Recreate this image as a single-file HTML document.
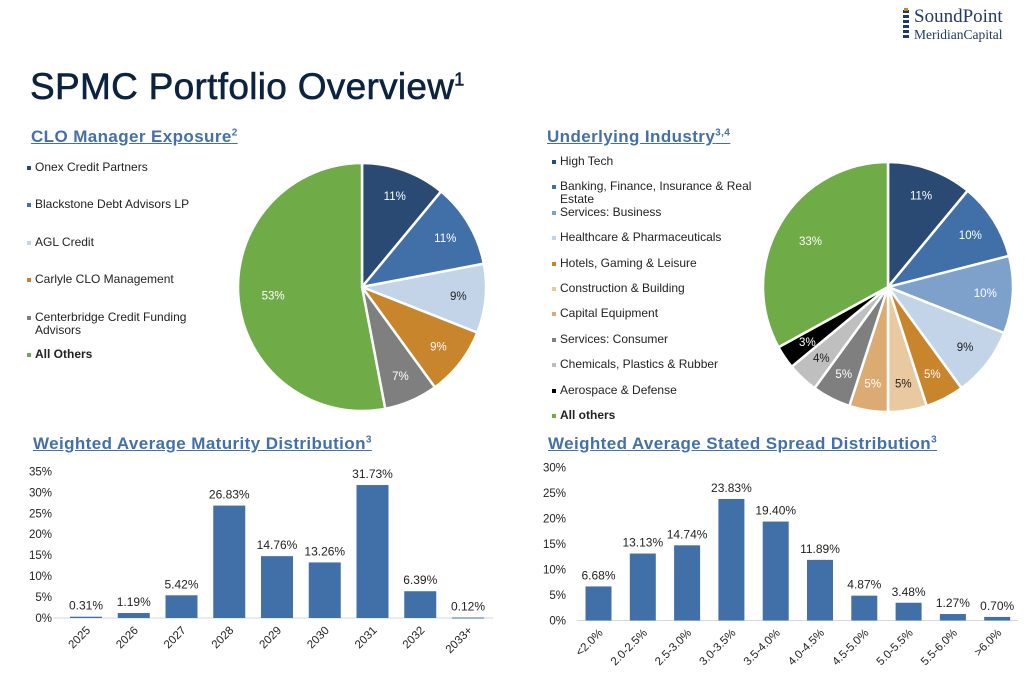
<!DOCTYPE html>
<html><head><meta charset="utf-8">
<style>
body{margin:0;width:1029px;height:676px;background:#fff;font-family:"Liberation Sans",sans-serif;position:relative;overflow:hidden}
.abs{position:absolute}
h1{position:absolute;left:30px;top:66px;margin:0;font-size:37px;font-weight:normal;color:#0c2340;letter-spacing:0.3px;-webkit-text-stroke:0.6px #0c2340}
h1 sup{font-size:18px}
.sec{position:absolute;font-size:17px;font-weight:bold;color:#4470aa;text-decoration:underline;margin:0;white-space:nowrap;letter-spacing:0.4px}
.sec sup{font-size:10px}
.leg{position:absolute;font-size:12px;color:#222;line-height:13px}
.leg i{display:inline-block;width:4px;height:4px;margin-right:4px;vertical-align:middle}
svg text{font-family:"Liberation Sans",sans-serif}
</style></head><body>
<div class="abs" style="left:903px;top:8px;width:120px;height:36px">
 <div class="abs" style="left:0;top:2px;width:6px;height:30px;background:repeating-linear-gradient(#1f3a64 0 3px,#fff 3px 5px)"></div>
 <div class="abs" style="left:1px;top:0;width:4px;height:3px;background:#c8852b"></div>
 <div class="abs" style="left:11px;top:-2px;font-family:'Liberation Serif',serif;font-size:19px;color:#1f3a64">SoundPoint</div>
 <div class="abs" style="left:11px;top:19px;font-family:'Liberation Serif',serif;font-size:13.5px;color:#1f3a64">MeridianCapital</div>
</div>
<h1>SPMC Portfolio Overview<sup>1</sup></h1>
<div class="sec" style="left:31px;top:127px">CLO Manager Exposure<sup>2</sup></div>
<div class="sec" style="left:547px;top:127px">Underlying Industry<sup>3,4</sup></div>
<div class="sec" style="left:33px;top:434px">Weighted Average Maturity Distribution<sup>3</sup></div>
<div class="sec" style="left:548px;top:434px">Weighted Average Stated Spread Distribution<sup>3</sup></div>
<div id="leg1"></div><div id="leg2"></div>
<svg id="svg" width="1029" height="676" style="position:absolute;left:0;top:0"></svg>
<script>
const pie1Labels=["Onex Credit Partners","Blackstone Debt Advisors LP","AGL Credit","Carlyle CLO Management","Centerbridge Credit Funding<br>Advisors","All Others"];
const pie1Values=[11,11,9,9,7,53];
const pie1Colors=["#2b4a73","#4170a8","#c3d4e8","#c8852b","#7f7f7f","#6fab46"];
const pie1TextDark=[0,0,1,0,0,0];
const leg1Y=[161,198,236,273,311,348];
const pie2Labels=["High Tech","Banking, Finance, Insurance &amp; Real<br>Estate","Services: Business","Healthcare &amp; Pharmaceuticals","Hotels, Gaming &amp; Leisure","Construction &amp; Building","Capital Equipment","Services: Consumer","Chemicals, Plastics &amp; Rubber","Aerospace &amp; Defense","All others"];
const pie2Values=[11,10,10,9,5,5,5,5,4,3,33];
const pie2Colors=["#2b4a73","#4170a8","#7ea1cb","#c3d4e8","#c8852b","#e8c9a0","#dcab74","#7f7f7f","#bfbfbf","#000000","#6fab46"];
const pie2TextDark=[0,0,0,1,0,1,0,0,1,0,0];
const leg2Y=[155,180,206,231,257,282,307,333,358,384,409];
const bar1Cats=["2025","2026","2027","2028","2029","2030","2031","2032","2033+"];
const bar1Vals=[0.31,1.19,5.42,26.83,14.76,13.26,31.73,6.39,0.12];
const bar1Ticks=[0,5,10,15,20,25,30,35];
const bar2Cats=["<2.0%","2.0-2.5%","2.5-3.0%","3.0-3.5%","3.5-4.0%","4.0-4.5%","4.5-5.0%","5.0-5.5%","5.5-6.0%",">6.0%"];
const bar2Vals=[6.68,13.13,14.74,23.83,19.40,11.89,4.87,3.48,1.27,0.70];
const bar2Ticks=[0,5,10,15,20,25,30];

const svg=document.getElementById('svg');
const NS="http://www.w3.org/2000/svg";
function mk(tag,attrs,parent){const e=document.createElementNS(NS,tag);for(const k in attrs)e.setAttribute(k,attrs[k]);(parent||svg).appendChild(e);return e;}

function legend(id,labels,colors,ys,x,boldLast){
 const c=document.getElementById(id);
 labels.forEach((l,i)=>{const d=document.createElement('div');d.className='leg';
  
  
  d.style.left=x+'px';d.style.top=ys[i]+'px';
  const lines=l.split('<br>');
  d.innerHTML='<i style="background:'+colors[i]+'"></i>'+(boldLast&&i==labels.length-1?'<b>'+lines[0]+'</b>':lines[0])+(lines[1]?'<br><span style="padding-left:8px">'+lines[1]+'</span>':'');
  c.appendChild(d);});
}
legend('leg1',pie1Labels,pie1Colors,leg1Y,27,true);
legend('leg2',pie2Labels,pie2Colors,leg2Y,552,true);

function pie(vals,colors,dark,cx,cy,r,name){
 const tot=vals.reduce((a,b)=>a+b,0);let a0=-Math.PI/2;
 vals.forEach((v,i)=>{const a1=a0+v/tot*2*Math.PI;
  const x0=cx+r*Math.cos(a0),y0=cy+r*Math.sin(a0),x1=cx+r*Math.cos(a1),y1=cy+r*Math.sin(a1);
  const p=mk('path',{d:`M${cx},${cy}L${x0},${y0}A${r},${r} 0 ${a1-a0>Math.PI?1:0} 1 ${x1},${y1}Z`,fill:colors[i],stroke:'#fff','stroke-width':2.5});
  
  
  const am=(a0+a1)/2,lr=r*(v>30?0.72:0.78);
  const t=mk('text',{x:cx+lr*Math.cos(am),y:cy+lr*Math.sin(am)+4,'text-anchor':'middle','font-size':11.5,fill:dark[i]?'#222':'#fff'});
  t.textContent=Math.round(v)+'%';
  
  
  a0=a1;});
}
pie(pie1Values,pie1Colors,pie1TextDark,362,287,124,'clo-pie');
pie(pie2Values,pie2Colors,pie2TextDark,888,287,125,'industry-pie');

function bars(cats,vals,ticks,o){
 const y=v=>o.base-v*o.ppu, x=i=>o.c0+i*o.step;
 ticks.forEach(t=>{const e=mk('text',{x:o.tx,y:y(t)+4,'text-anchor':'end','font-size':11.5,fill:'#222'});e.textContent=t+'%';
  
  });
 const ax=mk('line',{x1:o.ax0,x2:o.ax1,y1:o.base,y2:o.base,stroke:'#d0d8e4','stroke-width':1});
 
 
 vals.forEach((v,i)=>{
  const b=mk('rect',{x:x(i)-o.w/2,y:y(v),width:o.w,height:Math.max(v*o.ppu,1),fill:'#4170a8'});
  
  
  const l=mk('text',{x:x(i),y:y(v)-7,'text-anchor':'middle','font-size':12,fill:'#222'});l.textContent=v.toFixed(2)+'%';
  
  
  const c=mk('text',{x:x(i)+5,y:o.base+13,'text-anchor':'end','font-size':11.5,fill:'#222',transform:`rotate(-45 ${x(i)+5} ${o.base+13})`});c.textContent=cats[i];
  
  
 });
}
bars(bar1Cats,bar1Vals,bar1Ticks,{base:618,ppu:4.19,c0:86,step:47.75,w:32,tx:52,ax0:53,ax1:493});
bars(bar2Cats,bar2Vals,bar2Ticks,{base:620.5,ppu:5.1,c0:598.5,step:44.3,w:26,tx:566,ax0:577,ax1:1018});
</script>
</body></html>
